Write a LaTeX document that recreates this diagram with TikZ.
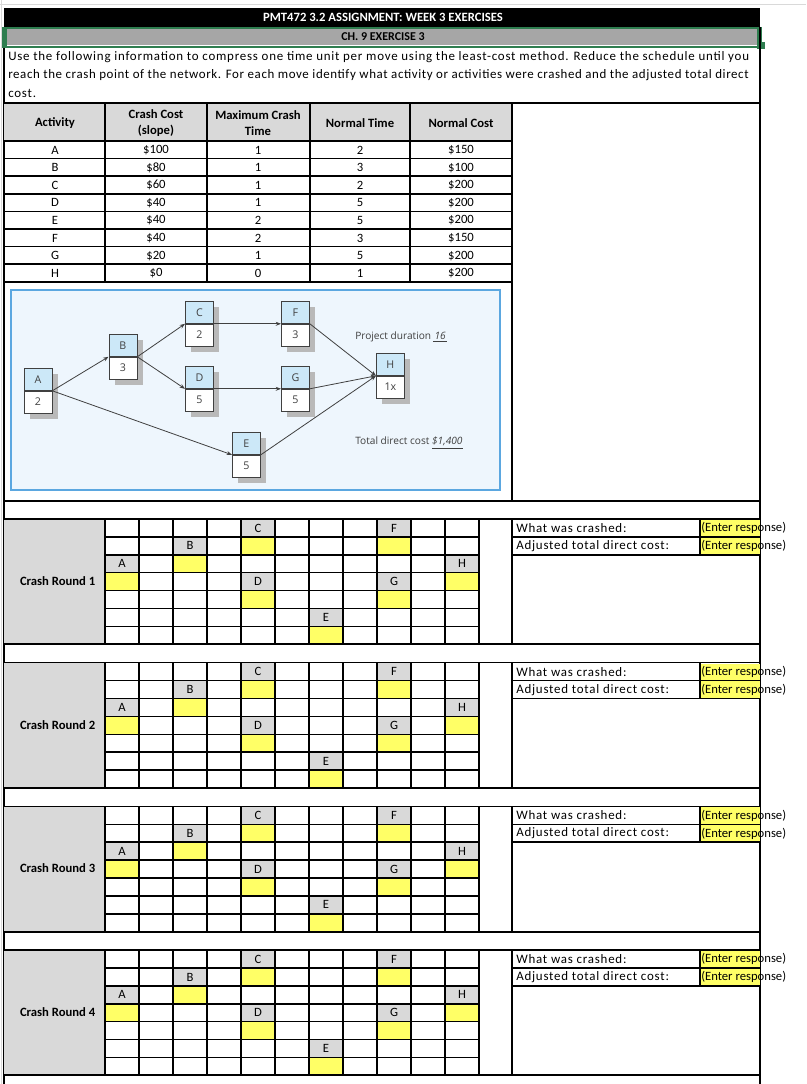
\documentclass[tikz,border=0pt]{standalone}
\usepackage{fontspec}
\setmainfont{Carlito}
\newfontfamily\netfont{Open Sans}
\newfontfamily\widefont[LetterSpace=6]{Carlito}
\newfontfamily\widerfont[LetterSpace=4.6]{Carlito}
\usetikzlibrary{arrows.meta}
\definecolor{hdr}{HTML}{D9D9D9}
\definecolor{yel}{HTML}{FFFF66}
\definecolor{grn}{HTML}{2E7D4F}
\definecolor{gbar}{HTML}{A6A6A6}
\definecolor{netbg}{HTML}{EEF6FD}
\definecolor{netbd}{HTML}{5BA7E0}
\definecolor{boxhd}{HTML}{CCE8F8}
\definecolor{ntxt}{HTML}{404040}
\tikzset{
 grid/.style={line width=1.1pt,black},
 celltxt/.style={font=\fontsize{9.5}{11}\selectfont,inner sep=0pt},
 widetxt/.style={font=\widefont\fontsize{9.7}{11}\selectfont,inner sep=0pt},
 hdrtxt/.style={font=\bfseries\fontsize{9.5}{11.5}\selectfont,inner sep=0pt,align=center},
 actbox/.style={draw=ntxt,line width=0.6pt,minimum width=21pt,minimum height=16.5pt,inner sep=0pt,font=\netfont\fontsize{8}{9}\selectfont,text=ntxt},
 netarrow/.style={ntxt,line width=0.6pt,-{Stealth[length=4pt,width=3pt]}},
}
\newcommand{\actnode}[4]{% name, x, y(top), label/duration
 \fill[gray!55] (#2+6,#3+6) rectangle (#2+34,#3+51);
 \node[actbox,fill=boxhd,anchor=north west] (#1t) at (#2,#3) {#1};
 \node[actbox,fill=white,anchor=north west] (#1) at (#2,#3+22.5) {#4};
}
\newcommand{\cell}[4]{% col,row,y0,color
 \fill[#4] (105+34*#1,#3+17.9*#2-17.9) rectangle (139+34*#1,#3+17.9*#2);
}
\newcommand{\crround}[2]{%
 \fill[hdr] (4,#2) rectangle (105,#2+125);
 \node[anchor=east,font=\bfseries\fontsize{9.5}{11}\selectfont] (lab#1) at (100,#2+62) {Crash Round #1};
 \cell{0}{3}{#2}{hdr}\cell{0}{4}{#2}{yel}
 \cell{2}{2}{#2}{hdr}\cell{2}{3}{#2}{yel}
 \cell{4}{1}{#2}{hdr}\cell{4}{2}{#2}{yel}
 \cell{8}{1}{#2}{hdr}\cell{8}{2}{#2}{yel}
 \cell{10}{3}{#2}{hdr}\cell{10}{4}{#2}{yel}
 \cell{4}{4}{#2}{hdr}\cell{4}{5}{#2}{yel}
 \cell{8}{4}{#2}{hdr}\cell{8}{5}{#2}{yel}
 \cell{6}{6}{#2}{hdr}\cell{6}{7}{#2}{yel}
 \fill[yel] (701,#2+1) rectangle (760,#2+35);
 \foreach \k in {1,...,6} {\draw[grid] (105,#2+17.9*\k) -- (479,#2+17.9*\k);}
 \foreach \i in {0,...,11} {\draw[grid] (105+34*\i,#2) -- (105+34*\i,#2+125);}
 \draw[grid] (512,#2) -- (512,#2+125);
 \draw[grid] (512,#2+17.9) -- (760,#2+17.9);
 \draw[grid] (512,#2+35.8) -- (760,#2+35.8);
 \draw[grid] (700,#2) -- (700,#2+35.8);
 \draw[grid] (4,#2-18) -- (760,#2-18);
 \draw[grid] (4,#2) -- (760,#2);
 \draw[grid] (4,#2+125) -- (760,#2+125);
 \foreach \c/\r/\t in {0/3/A,2/2/B,4/1/C,8/1/F,10/3/H,4/4/D,8/4/G,6/6/E}
  {\node[celltxt] at (122+34*\c,#2+17.9*\r-8.95) {\t};}
 \node[widetxt,anchor=west] (wc#1) at (516,#2+9) {What was crashed:};
 \node[widetxt,anchor=west] (ad#1) at (516,#2+27) {Adjusted total direct cost:};
 \node[celltxt,anchor=west] (r1#1) at (701,#2+9) {(Enter response)};
 \node[celltxt,anchor=west] (r2#1) at (701,#2+27) {(Enter response)};
}
\begin{document}
\begin{tikzpicture}[x=0.75pt,y=-0.75pt]
\useasboundingbox (0,0) rectangle (806,1084);
\fill[white] (0,0) rectangle (806,1084);
\draw[gray!30,line width=0.5pt] (0,4) -- (806,4);
\draw[gray!30,line width=0.5pt] (1.5,0) -- (1.5,1084);
% title bars
\fill[black] (4,8) rectangle (760,27);
\node[font=\bfseries\fontsize{9.5}{11}\selectfont,text=white] (title) at (383,17.5) {PMT472 3.2 ASSIGNMENT: WEEK 3 EXERCISES};
\fill[grn] (2,27) rectangle (762,48);
\fill[gbar] (7,29.5) rectangle (757,45);
\fill[white] (7,45) rectangle (757,46);
\fill[grn] (757,42) rectangle (765,49);
\node[font=\bfseries\fontsize{9}{11}\selectfont] (sub) at (383,37) {CH. 9 EXERCISE 3};
% frame
\draw[grid] (4,48) -- (4,1084);
\draw[grid] (760,27) -- (760,1084);
% instructions
\node[anchor=west,widetxt] (l1) at (8,57) {Use the following information to compress one time unit per move using the least-cost method. Reduce the schedule until you};
\node[anchor=west,widetxt,font=\widerfont\fontsize{9.7}{11}\selectfont] (l2) at (8,75) {reach the crash point of the network. For each move identify what activity or activities were crashed and the adjusted total direct};
\node[anchor=west,widetxt] (l3) at (8,93) {cost.};
% table
\fill[hdr] (4,104) rectangle (512,141);
\draw[grid] (4,103) -- (760,103);
\foreach \y in {141,158.6,176.2,193.8,211.4,229,246.6,264.2,281.8} {\draw[grid] (4,\y) -- (512,\y);}
\foreach \x in {105,207,310,410,512} {\draw[grid] (\x,103) -- (\x,281.8);}
\draw[grid] (512,281.8) -- (512,501);
\node[hdrtxt] (h1) at (55,123) {Activity};
\node[hdrtxt] (h2) at (156,123) {Crash Cost\\(slope)};
\node[hdrtxt] (h3) at (258,123) {Maximum Crash\\Time};
\node[hdrtxt] (h4) at (360,123) {Normal Time};
\node[hdrtxt] (h5) at (461,123) {Normal Cost};
\foreach \a/\c/\m/\n/\o [count=\i from 0] in {A/\$100/1/2/\$150,B/\$80/1/3/\$100,C/\$60/1/2/\$200,D/\$40/1/5/\$200,E/\$40/2/5/\$200,F/\$40/2/3/\$150,G/\$20/1/5/\$200,H/\$0/0/1/\$200}{
 \node[celltxt] at (55,150+17.6*\i) {\a};
 \node[celltxt] at (156,150+17.6*\i) {\c};
 \node[celltxt] at (258,150+17.6*\i) {\m};
 \node[celltxt] at (360,150+17.6*\i) {\n};
 \node[celltxt] at (461,150+17.6*\i) {\o};
}
% network
\draw[netbd,line width=1.5pt,fill=netbg] (11,290) rectangle (500,490);
\actnode{A}{23.5}{368}{2}
\actnode{B}{108.5}{334}{3}
\actnode{C}{185}{301}{2}
\actnode{D}{185}{366}{5}
\actnode{E}{232}{432}{5}
\actnode{F}{281}{301}{3}
\actnode{G}{281}{366}{5}
\actnode{H}{376}{353}{1x}
\draw[netarrow] (At.south east) -- (Bt.south west);
\draw[netarrow] (Bt.south east) -- (Ct.south west);
\draw[netarrow] (Bt.south east) -- (Dt.south west);
\draw[netarrow] (At.south east) -- (Et.south west);
\draw[netarrow] (Ct.south east) -- (Ft.south west);
\draw[netarrow] (Dt.south east) -- (Gt.south west);
\draw[netarrow] (Ft.south east) -- (Ht.south west);
\draw[netarrow] (Gt.south east) -- (Ht.south west);
\draw[netarrow] (Et.south east) -- (Ht.south west);
\node[anchor=west,font=\netfont\fontsize{7.6}{9}\selectfont,text=ntxt,inner sep=0pt] (pd) at (355,337) {Project duration\,\underline{\,\itshape 16\,}};
\node[anchor=west,font=\netfont\fontsize{7.6}{9}\selectfont,text=ntxt,inner sep=0pt] (tc) at (355,443) {Total direct cost \underline{\itshape \$1,400}};
% rounds
\draw[grid] (4,501) -- (760,501);
\crround{1}{519}
\crround{2}{662.7}
\crround{3}{806.4}
\crround{4}{950.1}
\end{tikzpicture}
\end{document}
